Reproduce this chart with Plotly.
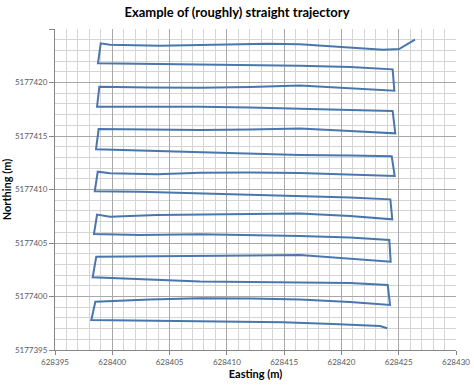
import plotly.graph_objects as go

# Trajectory (Easting, Northing) in metres
easting = [
    628426.42, 628425.03, 628423.63, 628420.75, 628416.38, 628413.50, 628409.14, 628404.16, 628399.80, 628398.99,
    628398.75,
    628403.29, 628407.66, 628412.02, 628416.38, 628420.75, 628424.47,
    628424.62,
    628420.75, 628416.38, 628412.02, 628407.66, 628403.29, 628398.87,
    628398.67,
    628403.29, 628407.66, 628412.02, 628416.38, 628420.75, 628424.47,
    628424.70,
    628420.75, 628416.38, 628412.02, 628407.66, 628403.29, 628398.81,
    628398.58,
    628403.29, 628407.66, 628412.02, 628416.38, 628420.75, 628424.39,
    628424.65,
    628420.75, 628416.38, 628412.02, 628407.66, 628403.90, 628399.80, 628398.73,
    628398.47,
    628402.42, 628407.66, 628412.02, 628416.38, 628420.75, 628424.27,
    628424.44,
    628420.75, 628416.38, 628412.02, 628407.66, 628403.90, 628399.80, 628398.67,
    628398.40,
    628402.42, 628407.66, 628412.02, 628416.38, 628420.75, 628424.18,
    628424.30,
    628420.75, 628416.38, 628412.02, 628407.66, 628403.29, 628399.80, 628398.60,
    628398.29,
    628402.42, 628407.66, 628412.02, 628416.38, 628420.75, 628424.04,
    628424.24,
    628420.75, 628416.38, 628412.02, 628407.66, 628403.29, 628399.80, 628398.52,
    628398.17,
    628401.81, 628407.66, 628413.50, 628414.90, 628419.26, 628422.23, 628423.37, 628424.00,
]
northing = [
    5177424.00, 5177423.13, 5177423.07, 5177423.25, 5177423.57, 5177423.63, 5177423.57, 5177423.44, 5177423.53, 5177423.66,
    5177421.79,
    5177421.73, 5177421.70, 5177421.68, 5177421.57, 5177421.45, 5177421.23,
    5177419.23,
    5177419.49, 5177419.72, 5177419.58, 5177419.51, 5177419.53, 5177419.61,
    5177417.74,
    5177417.76, 5177417.74, 5177417.66, 5177417.52, 5177417.43, 5177417.34,
    5177415.25,
    5177415.47, 5177415.70, 5177415.61, 5177415.56, 5177415.61, 5177415.65,
    5177413.76,
    5177413.60, 5177413.46, 5177413.36, 5177413.22, 5177413.18, 5177413.10,
    5177411.26,
    5177411.40, 5177411.54, 5177411.59, 5177411.57, 5177411.42, 5177411.51, 5177411.66,
    5177409.83,
    5177409.79, 5177409.64, 5177409.53, 5177409.35, 5177409.25, 5177409.08,
    5177407.21,
    5177407.52, 5177407.76, 5177407.71, 5177407.68, 5177407.62, 5177407.46, 5177407.66,
    5177405.84,
    5177405.75, 5177405.81, 5177405.75, 5177405.65, 5177405.51, 5177405.28,
    5177403.25,
    5177403.55, 5177403.88, 5177403.83, 5177403.79, 5177403.74, 5177403.69, 5177403.72,
    5177401.79,
    5177401.59, 5177401.40, 5177401.36, 5177401.31, 5177401.26, 5177401.07,
    5177399.21,
    5177399.49, 5177399.72, 5177399.81, 5177399.83, 5177399.72, 5177399.58, 5177399.51,
    5177397.80,
    5177397.74, 5177397.64, 5177397.55, 5177397.59, 5177397.43, 5177397.34, 5177397.24, 5177397.03,
]

x_ticks = [628395, 628400, 628405, 628410, 628415, 628420, 628425, 628430]
x_tick_labels = ["628395", "628400", "628405", "628410", "628415", "628420", "628425", "628430"]
y_ticks = [5177395, 5177400, 5177405, 5177410, 5177415, 5177420, 5177425]
y_tick_labels = ["5177395", "5177400", "5177405", "5177410", "5177415", "5177420", ""]

FONT = "Lato, Calibri, 'Open Sans', sans-serif"

fig = go.Figure()
fig.add_trace(go.Scatter(
    x=easting, y=northing, mode="lines",
    line=dict(color="#4A76AE", width=2),
    hoverinfo="skip", showlegend=False,
))

fig.update_layout(
    width=474, height=388,
    margin=dict(l=55, r=18, t=29, b=38, autoexpand=False),
    paper_bgcolor="white", plot_bgcolor="white",
    title=dict(text="<b>Example of (roughly) straight trajectory</b>",
               x=0.5, xanchor="center", y=1 - 12 / 388, yanchor="middle",
               font=dict(family=FONT, size=13, color="#000000")),
    font=dict(family=FONT, color="#595959"),
)
fig.update_xaxes(
    automargin=False,
    range=[628395, 628430], tickmode="array", tickvals=x_ticks, ticktext=x_tick_labels,
    tickfont=dict(size=8, color="#595959"),
    ticks="outside", ticklen=4, tickcolor="#868686",
    showgrid=True, gridcolor="#a8a8a8", gridwidth=1,
    minor=dict(dtick=1, tick0=628395, showgrid=True, gridcolor="#d4d4d4", gridwidth=1, ticks=""),
    showline=True, linecolor="#868686", linewidth=1,
    zeroline=False,
    title=dict(text="<b>Easting (m)</b>", font=dict(family=FONT, size=11, color="#000000"), standoff=3),
)
fig.update_yaxes(
    automargin=False,
    range=[5177395, 5177425], tickmode="array", tickvals=y_ticks, ticktext=y_tick_labels,
    tickfont=dict(size=8, color="#595959"),
    ticks="outside", ticklen=5, tickcolor="#868686",
    showgrid=True, gridcolor="#a8a8a8", gridwidth=1,
    minor=dict(dtick=1, tick0=5177395, showgrid=True, gridcolor="#d4d4d4", gridwidth=1, ticks=""),
    showline=True, linecolor="#868686", linewidth=1,
    zeroline=False,
    title=dict(text="<b>Northing (m)</b>", font=dict(family=FONT, size=11, color="#000000"), standoff=1),
)

fig.write_html(
    "out.html",
    config={"displayModeBar": False},
    post_script="document.body.style.margin='0';document.body.style.overflow='hidden';",
)
